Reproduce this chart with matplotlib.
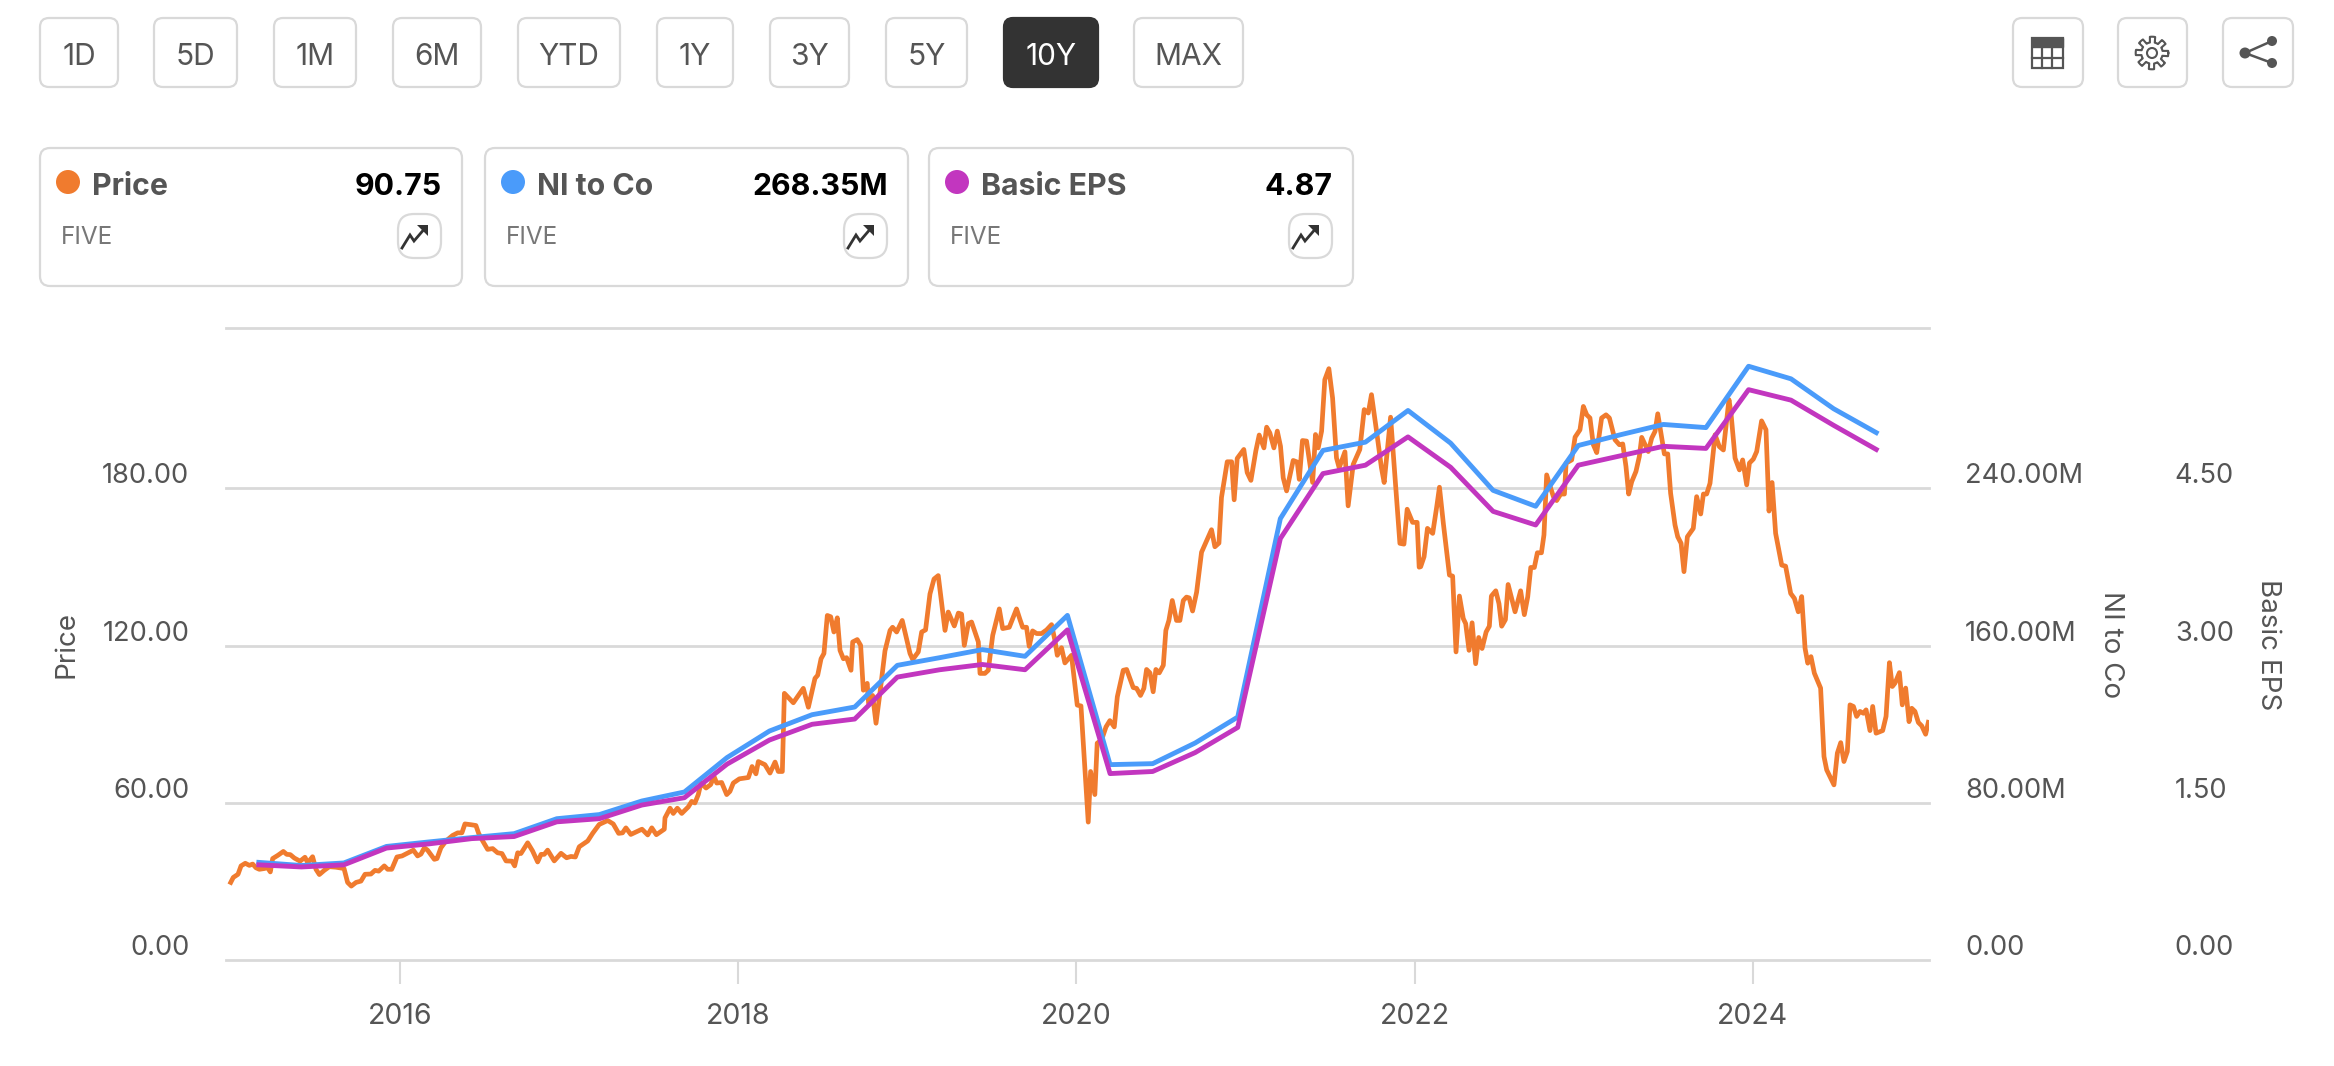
import numpy as np
import matplotlib
matplotlib.use("Agg")
import matplotlib.pyplot as plt
from matplotlib.patches import FancyBboxPatch, Circle, Polygon, Rectangle
from matplotlib.transforms import ScaledTranslation

plt.rcParams['font.family'] = ['Inter', 'DejaVu Sans']

# price, irregular dates in decimal years
price_dates = [
    2014.999, 2015.014, 2015.042, 2015.060, 2015.085, 2015.109, 2015.129, 2015.148, 2015.168, 2015.198,
    2015.217, 2015.233, 2015.247, 2015.277, 2015.310, 2015.330, 2015.351, 2015.375, 2015.409, 2015.438,
    2015.454, 2015.483, 2015.503, 2015.523, 2015.552, 2015.582, 2015.621, 2015.669, 2015.690, 2015.712,
    2015.740, 2015.769, 2015.793, 2015.828, 2015.852, 2015.874, 2015.907, 2015.927, 2015.951, 2015.982,
    2016.012, 2016.045, 2016.079, 2016.104, 2016.124, 2016.144, 2016.163, 2016.203, 2016.219, 2016.242,
    2016.272, 2016.311, 2016.341, 2016.366, 2016.384, 2016.420, 2016.449, 2016.465, 2016.489, 2016.518,
    2016.548, 2016.577, 2016.603, 2016.627, 2016.662, 2016.678, 2016.696, 2016.715, 2016.755, 2016.784,
    2016.814, 2016.834, 2016.853, 2016.873, 2016.912, 2016.952, 2016.985, 2017.011, 2017.037, 2017.060,
    2017.110, 2017.139, 2017.178, 2017.228, 2017.261, 2017.293, 2017.316, 2017.336, 2017.365, 2017.431,
    2017.465, 2017.489, 2017.516, 2017.563,
    2017.567, 2017.597, 2017.616, 2017.640, 2017.666, 2017.705, 2017.725, 2017.744, 2017.764, 2017.780,
    2017.810, 2017.837, 2017.857, 2017.873, 2017.902, 2017.932, 2017.951, 2017.971, 2018.007, 2018.060,
    2018.082, 2018.105, 2018.119, 2018.158, 2018.188, 2018.218, 2018.237, 2018.261, 2018.273, 2018.326,
    2018.385, 2018.415, 2018.454, 2018.470, 2018.490, 2018.507, 2018.527, 2018.547, 2018.566, 2018.586,
    2018.602, 2018.622, 2018.641, 2018.667, 2018.677, 2018.704, 2018.724, 2018.740, 2018.763, 2018.771,
    2018.795, 2018.815, 2018.838, 2018.868, 2018.898, 2018.913, 2018.937, 2018.970, 2019.016, 2019.032,
    2019.065, 2019.085, 2019.108, 2019.134, 2019.158, 2019.183, 2019.223, 2019.242, 2019.278, 2019.302,
    2019.321, 2019.337, 2019.361, 2019.380, 2019.420, 2019.430, 2019.459, 2019.479, 2019.505, 2019.544,
    2019.564, 2019.603, 2019.646,
    2019.666, 2019.682, 2019.705, 2019.721, 2019.741, 2019.765, 2019.794, 2019.824, 2019.853, 2019.873,
    2019.887, 2019.912, 2019.932, 2019.971, 2020.005, 2020.027, 2020.070, 2020.084, 2020.109, 2020.123,
    2020.149, 2020.175, 2020.198, 2020.224, 2020.242, 2020.277, 2020.297, 2020.336, 2020.356, 2020.379,
    2020.399, 2020.415, 2020.435, 2020.454, 2020.470, 2020.490, 2020.514, 2020.529, 2020.547, 2020.567,
    2020.592, 2020.612, 2020.632, 2020.651, 2020.667, 2020.687, 2020.711, 2020.740, 2020.770, 2020.799,
    2020.819, 2020.843, 2020.858, 2020.892, 2020.918, 2020.933, 2020.951, 2020.990, 2021.010, 2021.032,
    2021.061, 2021.081, 2021.109, 2021.125, 2021.144, 2021.168, 2021.188, 2021.207, 2021.223, 2021.243,
    2021.282, 2021.306, 2021.318, 2021.337, 2021.361, 2021.397, 2021.414, 2021.430, 2021.450, 2021.469,
    2021.493, 2021.515, 2021.538, 2021.554, 2021.588, 2021.607, 2021.637, 2021.676, 2021.702, 2021.726,
    2021.745, 2021.775, 2021.804, 2021.820, 2021.858, 2021.883, 2021.913, 2021.937, 2021.956, 2021.988,
    2022.015, 2022.027,
    2022.036, 2022.056, 2022.076, 2022.107, 2022.131, 2022.147, 2022.170, 2022.206, 2022.225, 2022.245,
    2022.265, 2022.288, 2022.302, 2022.322, 2022.340, 2022.361, 2022.379, 2022.399, 2022.423, 2022.442,
    2022.454, 2022.480, 2022.499, 2022.515, 2022.537, 2022.553, 2022.594, 2022.627, 2022.649, 2022.669,
    2022.687, 2022.708, 2022.726, 2022.750, 2022.765, 2022.781, 2022.805, 2022.821, 2022.840, 2022.864,
    2022.886, 2022.896, 2022.929, 2022.949, 2022.978, 2022.998, 2023.018, 2023.037, 2023.057, 2023.077,
    2023.106, 2023.132, 2023.152, 2023.185, 2023.211, 2023.231, 2023.250, 2023.266, 2023.284, 2023.309,
    2023.329, 2023.343, 2023.382, 2023.402, 2023.422, 2023.438, 2023.457, 2023.477, 2023.497, 2023.514,
    2023.540, 2023.556, 2023.576, 2023.593, 2023.613, 2023.648, 2023.668, 2023.692, 2023.708, 2023.727,
    2023.747, 2023.777, 2023.802, 2023.826, 2023.859, 2023.871, 2023.895, 2023.921, 2023.940, 2023.964,
    2023.980, 2024.003, 2024.023, 2024.052, 2024.078, 2024.096, 2024.114, 2024.135, 2024.171, 2024.194,
    2024.224, 2024.246, 2024.269,
    2024.289, 2024.309, 2024.325, 2024.344, 2024.364, 2024.401, 2024.421, 2024.437, 2024.480, 2024.500,
    2024.520, 2024.539, 2024.559, 2024.575, 2024.595, 2024.614, 2024.634, 2024.654, 2024.670, 2024.693,
    2024.709, 2024.729, 2024.768, 2024.788, 2024.808, 2024.825, 2024.841, 2024.867, 2024.884, 2024.904,
    2024.924, 2024.940, 2024.959, 2024.979, 2024.999, 2025.022, 2025.038,
]
price = [
    29.7, 31.6, 32.8, 36, 37, 36.2, 36.7, 35.3, 34.7, 35,
    35.3, 33.7, 38.8, 40, 41.5, 40.4, 40.3, 39, 37.8, 39.3,
    37.2, 39.5, 34.7, 32.7, 34.3, 35.7, 35.5, 35, 29.7, 28.3,
    29.7, 30.2, 32.8, 32.9, 34.3, 34, 36, 34.7, 34.7, 39.4,
    39.8, 40.9, 42, 39.8, 40.5, 42.9, 42, 38.5, 38.8, 42.9,
    45.5, 47.6, 48.6, 48.6, 52, 51.7, 51.4, 48.4, 45.5, 42.3,
    42.6, 41, 40.7, 37.9, 37.8, 36, 41, 40.7, 44.8, 41.7,
    37.5, 40.4, 40.4, 42, 37.9, 40.8, 39.1, 39.6, 39.4, 43.3,
    45.5, 48.4, 51.8, 53.3, 52, 48.4, 48.6, 50.5, 48, 50,
    47.8, 50.5, 47.9, 50,
    54.3, 58, 56, 58, 56, 58.5, 60.6, 60, 63.2, 67.6,
    65.7, 67, 70.1, 67.6, 67.8, 63.2, 64.4, 67.6, 69.2, 69.7,
    73.9, 71.1, 75.8, 74.6, 71.4, 75.6, 72, 72, 101.8, 98.2,
    103.7, 96.5, 107.5, 108.7, 115, 117, 131.5, 131, 125.2, 130.6,
    118.2, 115, 115.4, 110.6, 121.4, 122.3, 120.1, 103, 105.6, 98,
    101, 90.4, 101.8, 118, 125.8, 127, 125.2, 129.6, 117, 114.7,
    117.6, 125.2, 126, 139.7, 145.4, 146.7, 125.8, 132.8, 127.5, 132.4,
    132, 120.1, 128.4, 129, 121.4, 109.4, 109.4, 110.6, 123.9, 134,
    126.5, 127, 134,
    130, 127, 127, 119.7, 125.6, 124.6, 124.6, 126, 128, 122,
    116.3, 119.2, 113.4, 116.3, 97.3, 97, 52.7, 72, 63.2, 82.8,
    84, 89, 91.4, 89, 100.5, 110.6, 110.9, 104, 103.7, 101,
    103.7, 110.9, 109.6, 102.4, 110.9, 109.6, 112.5, 125.8, 129.6, 137.2,
    129.6, 129.6, 137.2, 138.5, 138.2, 133.2, 140.4, 155.6, 160, 164.2,
    157.7, 159.1, 176.5, 190.1, 190.1, 175.6, 191.4, 194.8, 186, 183,
    194.2, 200.3, 195.4, 203.3, 201.1, 195.4, 201.8, 196, 184, 179,
    190.6, 190, 183.4, 198.2, 198, 182.2, 200.5, 195.4, 201.8, 221.4,
    225.6, 214.4, 191.6, 187.8, 193.9, 173.3, 189.1, 194.8, 210, 208.7,
    215.7, 201.8, 187.8, 182.2, 207.1, 185.3, 159, 158.7, 172, 167,
    167, 149.9,
    150.1, 153.9, 164.7, 162.8, 173, 180.4, 166.6, 146.9, 146.5, 117.6,
    138.9, 130.3, 128.4, 118.2, 128.7, 113.1, 123.1, 118.9, 125.2, 127.4,
    138.9, 140.9, 136, 127.4, 129.9, 143.3, 132.9, 140.9, 131.8, 138.6,
    149.8, 149.8, 155.4, 155.4, 162.2, 185.1, 180, 176.8, 175.3, 177.8,
    177.8, 189.6, 190.8, 199.5, 202.3, 211.2, 208, 206.8, 196.6, 193.6,
    206.8, 208, 206.8, 198.5, 196.6, 196.9, 188.3, 177.8, 182.5, 186.4,
    192.1, 199.4, 194, 199.1, 201.7, 208.4, 201, 193.1, 193.1, 178.1,
    166, 161.5, 159, 148.2, 161.5, 164.7, 176.8, 170.2, 177.8, 177.8,
    181.9, 200.4, 195.9, 194.6, 213.8, 208.7, 191.5, 187, 190.8, 181.3,
    189.6, 191.1, 194, 205.7, 202.3, 171.3, 182.2, 162.8, 150.7, 150.3,
    139.9, 138, 132.9,
    138.7, 119, 113.3, 115.8, 109.5, 103.8, 77.7, 72.6, 66.9, 79,
    83, 75.8, 79.6, 97.4, 96.8, 93, 94.9, 94.2, 95.5, 87.6,
    96.8, 86.6, 87.6, 93, 113.5, 104.4, 105.7, 109.7, 97.4, 103.8,
    91, 96.1, 94.9, 90.7, 89.4, 86.2, 90.75,
]

# quarterly series
quarter_dates = [
    2015.165, 2015.417, 2015.668, 2015.920, 2016.172, 2016.424, 2016.675, 2016.927, 2017.179, 2017.430,
    2017.682, 2017.934, 2018.185, 2018.437, 2018.689, 2018.941, 2019.192, 2019.444, 2019.696, 2019.947,
    2020.199, 2020.451, 2020.702, 2020.954, 2021.206, 2021.458, 2021.709, 2021.961, 2022.213, 2022.464,
    2022.716, 2022.968, 2023.219, 2023.471, 2023.723, 2023.975, 2024.226, 2024.478, 2024.730,
]
ni_to_co = [
    49.8, 48.2, 49.5, 57.9, 60.2, 62.4, 64.4, 72, 74.1, 81,
    85.6, 103.1, 116.6, 124.9, 128.8, 150, 153.9, 158, 154.6, 175.4,
    99.5, 100, 110.5, 123.7, 224.6, 259.3, 263.5, 279.6, 263, 239,
    230.9, 261.8, 267.3, 272.5, 270.9, 302.1, 295.7, 280.5, 268.35,
]
basic_eps = [
    0.91, 0.89, 0.91, 1.07, 1.11, 1.16, 1.18, 1.32, 1.35, 1.48,
    1.55, 1.87, 2.10, 2.25, 2.30, 2.70, 2.77, 2.82, 2.77, 3.15,
    1.78, 1.80, 1.98, 2.22, 4.02, 4.64, 4.72, 4.99, 4.70, 4.28,
    4.15, 4.72, 4.81, 4.90, 4.88, 5.44, 5.34, 5.10, 4.87,
]

range_labels = ["1D", "5D", "1M", "6M", "YTD", "1Y", "3Y", "5Y", "10Y", "MAX"]
card_names = ["Price", "NI to Co", "Basic EPS"]
card_values = ["90.75", "268.35M", "4.87"]
year_ticks = [2016, 2018, 2020, 2022, 2024]
price_ticks = [0, 60, 120, 180, 241]
price_labels = ["0.00", "60.00", "120.00", "180.00", ""]
ni_ticks = [0, 80, 160, 240]
ni_labels = ["0.00", "80.00M", "160.00M", "240.00M"]
eps_ticks = [0, 1.5, 3, 4.5]
eps_labels = ["0.00", "1.50", "3.00", "4.50"]

ORANGE = "#f07b2e"
BLUE = "#4a9bfa"
MAGENTA = "#c236bf"
GRID = "#d9d9d9"
TEXT = "#555555"
W, H = 2334, 1066

fig = plt.figure(figsize=(W / 100, H / 100), dpi=100, facecolor="white")
ax = fig.add_axes([226 / W, (H - 960.3) / H, 1703 / W, 632 / H])
ax2 = ax.twinx()
ax3 = ax.twinx()

ax.plot(price_dates, price, color=ORANGE, lw=3.4, solid_joinstyle="round", zorder=3)
ax2.plot(quarter_dates, ni_to_co, color=BLUE, lw=3.5, solid_joinstyle="round", zorder=3)
ax3.plot(quarter_dates, basic_eps, color=MAGENTA, lw=3.5, solid_joinstyle="round", zorder=4)

ax.set_xlim(2014.971, 2025.042)
ax.set_ylim(0, 241)
ax2.set_ylim(0, 321.4)
ax3.set_ylim(0, 6.025)
ax.set_xticks(year_ticks)
ax.set_xticklabels([str(y) for y in year_ticks])
ax.set_yticks(price_ticks)
ax.set_yticklabels(price_labels)
ax2.set_yticks(ni_ticks)
ax2.set_yticklabels(ni_labels)
ax3.set_yticks(eps_ticks)
ax3.set_yticklabels(eps_labels)

for a in (ax, ax2, ax3):
    for s in a.spines.values():
        s.set_visible(False)

ax.grid(axis="y", color=GRID, lw=2)
ax.set_axisbelow(True)
for g in ax.get_ygridlines():
    g.set_clip_on(False)
ax.tick_params(axis="x", length=17.5, width=1.5, color=GRID, labelsize=20.5, labelcolor=TEXT, pad=13)
ax.tick_params(axis="y", length=0, labelsize=19.6, labelcolor=TEXT, pad=26.5)
ax2.tick_params(axis="y", length=0, labelsize=19.6, labelcolor=TEXT, pad=26)
ax3.tick_params(axis="y", length=0, labelsize=19.6, labelcolor=TEXT, pad=177)

# axis tick labels sit above their grid lines
up = ScaledTranslation(0, 15 / 100, fig.dpi_scale_trans)
for a in (ax, ax2, ax3):
    for lab in a.get_yticklabels():
        lab.set_transform(lab.get_transform() + up)

ax.set_ylabel("Price", fontsize=20, color=TEXT, rotation=90, va="center", ha="center")
ax.yaxis.set_label_coords((66 - 226) / 1703, 0.5)
ax2.set_ylabel("NI to Co", fontsize=20, color=TEXT, rotation=270, va="center", ha="center")
ax2.yaxis.set_label_coords((2111 - 226) / 1703, 0.5)
ax3.set_ylabel("Basic EPS", fontsize=20, color=TEXT, rotation=270, va="center", ha="center")
ax3.yaxis.set_label_coords((2268 - 226) / 1703, 0.5)

# page controls, drawn in pixel coordinates over the whole figure
ui = fig.add_axes([0, 0, 1, 1], facecolor="none", zorder=5)
ui.set_xlim(0, W)
ui.set_ylim(H, 0)
ui.axis("off")


def box(x0, x1, y0, y1, fc="white", ec=GRID, r=9, lw=1.6):
    ui.add_patch(FancyBboxPatch((x0 + r, y0 + r), x1 - x0 - 2 * r, y1 - y0 - 2 * r,
                                boxstyle="round,pad=%d,rounding_size=%d" % (r, r),
                                fc=fc, ec=ec, lw=lw))


button_edges = [(40, 118), (154, 237), (274, 356), (393, 481), (518, 620),
                (657, 733), (770, 849), (886, 967), (1004, 1098), (1134, 1243)]
for lab, (x0, x1) in zip(range_labels, button_edges):
    active = lab == "10Y"
    box(x0, x1, 18, 87, fc="#333333" if active else "white", ec="#333333" if active else GRID)
    ui.text((x0 + x1) / 2, 54, lab, ha="center", va="center_baseline", fontsize=21.5,
            color="white" if active else TEXT)

card_edges = [(40, 462), (485, 908), (929, 1353)]
card_colors = [ORANGE, BLUE, MAGENTA]
for name, val, col, (x0, x1) in zip(card_names, card_values, card_colors, card_edges):
    box(x0, x1, 148, 286, r=10)
    ui.add_patch(Circle((x0 + 28, 182), 12, fc=col, ec="none"))
    ui.text(x0 + 52, 184, name, ha="left", va="center_baseline", fontsize=21.8, fontweight="bold", color=TEXT)
    ui.text(x1 - 20, 184, val, ha="right", va="center_baseline", fontsize=21.8, fontweight="bold", color="black")
    ui.text(x0 + 21, 235, "FIVE", ha="left", va="center_baseline", fontsize=17.5, color="#777777")
    box(x1 - 64, x1 - 21, 214, 258, r=16)
    zig_x = np.array([-18, -10, -6, 6]) + x1 - 42
    zig_y = np.array([11, -2, 4, -10]) + 237
    ui.plot(zig_x, zig_y, color="#333333", lw=2, solid_joinstyle="miter")
    ui.add_patch(Polygon([(x1 - 45, 225), (x1 - 34, 225), (x1 - 34, 236)], fc="#333333", ec="none"))

# table icon
box(2013, 2083, 18, 87)
ui.add_patch(Rectangle((2032, 38), 31, 30, fc="none", ec=TEXT, lw=1.6))
ui.add_patch(Rectangle((2032, 38), 31, 9, fc=TEXT, ec=TEXT, lw=1))
for xv in (2042, 2052):
    ui.plot([xv, xv], [47, 68], color=TEXT, lw=1.6)
ui.plot([2032, 2063], [57.5, 57.5], color=TEXT, lw=1.6)

# gear icon
box(2118, 2187, 18, 87)
angs = np.linspace(0, 2 * np.pi, 97)
rad = 13.5 + 2.8 * np.sign(np.cos(8 * angs))
ui.plot(2152 + rad * np.cos(angs), 53 + rad * np.sin(angs), color=TEXT, lw=1.5)
ui.add_patch(Circle((2152, 53), 5, fc="none", ec=TEXT, lw=1.5))

# share icon
box(2223, 2293, 18, 87)
for ny in (41, 63):
    ui.plot([2245, 2272], [53, ny], color=TEXT, lw=1.8)
    ui.add_patch(Circle((2272, ny), 5, fc=TEXT, ec="none"))
ui.add_patch(Circle((2245, 53), 5.5, fc=TEXT, ec="none"))

fig.savefig("out.png", dpi=100, facecolor="white")
